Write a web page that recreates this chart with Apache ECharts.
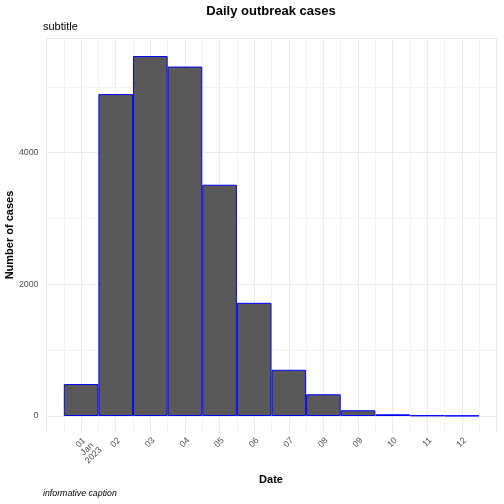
<!DOCTYPE html>
<html>
<head>
<meta charset="utf-8">
<script src="https://cdn.jsdelivr.net/npm/echarts@6/dist/echarts.min.js"></script>
<style>html,body{margin:0;padding:0;background:#fff}#c{width:504px;height:504px}</style>
</head>
<body>
<div id="c"></div>
<script>
const binLabels = ['01\nJan\n2023', '02', '03', '04', '05', '06', '07', '08', '09', '10', '11', '12'];
const caseCounts = [485, 4890, 5468, 5308, 3513, 1719, 702, 330, 87, 26, 9, 5];
const yTickLabels = [0, 2000, 4000];

const FONT = 'Liberation Sans';
const barData = caseCounts.map((v, i) => [i + 1, v]);

const chart = echarts.init(document.getElementById('c'), null, {renderer: 'canvas'});
const gridLeft = 46.5, gridRight = 7.5;
const xCommon = {
  type: 'value', min: 0, max: 13, interval: 0.5,
  axisLine: {show: false}, axisTick: {show: false},
  splitLine: {show: true, lineStyle: {color: ['#ebebeb', '#f3f3f3'], width: 1}}
};
function fmtLabel(v) {
  const i = Math.round(v);
  if (Math.abs(v - i) > 1e-6 || i < 1 || i > binLabels.length) return '';
  const s = binLabels[i - 1];
  if (s.indexOf('\n') < 0) return s;
  return s.split('\n').map(p => '{c|' + p + '}').join('\n');
}
chart.setOption({
  backgroundColor: '#ffffff',
  animation: false,
  title: [
    {text: 'Daily outbreak cases', left: 271, top: 4.5, textAlign: 'center', padding: 0,
     textStyle: {fontFamily: FONT, fontSize: 13, fontWeight: 'bold', color: '#000'}},
    {text: 'subtitle', left: 43, top: 21, padding: 0,
     textStyle: {fontFamily: FONT, fontSize: 11, fontWeight: 'normal', color: '#000'}},
    {text: 'Date', left: 271, top: 474, textAlign: 'center', padding: 0,
     textStyle: {fontFamily: FONT, fontSize: 11, fontWeight: 'bold', color: '#000'}},
    {text: 'informative caption', left: 43, top: 489, padding: 0,
     textStyle: {fontFamily: FONT, fontSize: 8.8, fontStyle: 'italic', fontWeight: 'normal', color: '#000'}}
  ],
  graphic: [{
    type: 'text', x: 10, y: 235, rotation: Math.PI / 2,
    style: {text: 'Number of cases', fontFamily: FONT, fontSize: 11, fontWeight: 'bold',
            fill: '#000', align: 'center', verticalAlign: 'middle'}
  }],
  grid: [
    {left: gridLeft, right: gridRight, top: 38, bottom: 88, containLabel: false},
    {left: gridLeft, right: gridRight, top: 416, height: 17, containLabel: false}
  ],
  xAxis: [
    Object.assign({gridIndex: 0, axisLabel: {show: false}}, xCommon),
    Object.assign({gridIndex: 1, axisLabel: {
      show: true, rotate: 45, margin: 3, fontFamily: FONT, fontSize: 8.8, color: '#4d4d4d',
      align: 'right', verticalAlign: 'top', lineHeight: 9,
      rich: {c: {width: 10, align: 'center', fontFamily: FONT, fontSize: 8.8, color: '#4d4d4d', lineHeight: 9}},
      formatter: fmtLabel
    }}, xCommon)
  ],
  yAxis: [
    {gridIndex: 0, type: 'value', min: 0, max: 5742, interval: 1000,
     axisLine: {show: false}, axisTick: {show: false},
     splitLine: {show: true, lineStyle: {color: ['#ebebeb', '#f3f3f3'], width: 1}},
     axisLabel: {show: true, margin: 8, fontFamily: FONT, fontSize: 8.8, color: '#4d4d4d',
       showMaxLabel: false,
       formatter: v => yTickLabels.indexOf(v) >= 0 ? String(v) : ''}},
    {gridIndex: 1, type: 'value', min: 0, max: 1, show: false}
  ],
  series: [{
    type: 'bar', xAxisIndex: 0, yAxisIndex: 0,
    data: barData, barCategoryGap: '0%', barGap: '0%',
    itemStyle: {color: '#595959', borderColor: '#0000ff', borderWidth: 1}
  }]
});
</script>
</body>
</html>
